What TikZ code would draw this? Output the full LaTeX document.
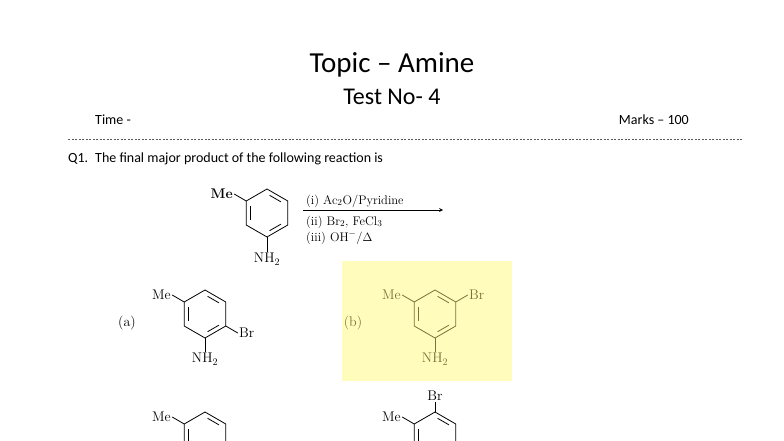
\documentclass[tikz,border=0pt]{standalone}
\usepackage{fontspec}
\newfontfamily\hdfont{Carlito}
\usetikzlibrary{calc}
\definecolor{hilite}{RGB}{255,252,188}
\definecolor{hiltext}{RGB}{120,115,60}
\tikzset{
  bond/.style={line width=0.8pt},
  hd/.style={font=\hdfont\fontsize{14}{16}\selectfont, inner sep=0pt},
  chem/.style={font=\fontsize{14}{16}\selectfont, inner sep=1pt},
  cond/.style={font=\fontsize{12.5}{14}\selectfont, inner sep=0pt, anchor=west}
}
% ring with named corners t, ur, lr, b, ll, ul
\newcommand\benzene[2]{%
  \coordinate (#1) at (#2);
  \foreach \a/\n in {-90/t,-30/ur,30/lr,90/b,150/ll,210/ul}
    \coordinate (#1-\n) at ($(#1)+(\a:24)$);
  \draw[bond] (#1-t) -- (#1-ur) -- (#1-lr) -- (#1-b) -- (#1-ll) -- (#1-ul) -- cycle;
  \foreach \p/\q in {t/ur,lr/b,ll/ul}
    \draw[bond, shorten <=3pt, shorten >=3pt] ($(#1)!0.8!(#1-\p)$) -- ($(#1)!0.8!(#1-\q)$);
}
\begin{document}
\begin{tikzpicture}[x=1pt, y=-1pt]
  \useasboundingbox (0,0) rectangle (784,441);
  % header
  \node[hd, font=\hdfont\fontsize{29}{32}\selectfont] (topic) at (392,65) {Topic \textendash\ Amine};
  \node[hd, font=\hdfont\fontsize{24}{26}\selectfont] (test) at (392,97) {Test No- 4};
  \node[hd, anchor=west] (time) at (95,120) {Time -};
  \node[hd, anchor=east] (marks) at (689,120) {Marks \textendash\ 100};
  \draw[gray!70!black, dash pattern=on 2pt off 1.5pt, line width=0.6pt] (68,139) -- (742,139);
  \node[hd, anchor=west] (q1) at (68,159) {Q1.};
  \node[hd, anchor=west] (stmt) at (95,159) {The final major product of the following reaction is};

  % starting material
  \benzene{s}{267,213}
  \draw[bond] (s-ul) -- ++(-12,-7) node[chem, anchor=east] (sme) {\textbf{Me}};
  \draw[bond] (s-b) -- ++(0,15) node[chem, anchor=north] (snh) {NH$_2$};
  \draw[-stealth, line width=0.7pt] (303,210) -- (443,210);
  \node[cond] (c1) at (306,201) {(i) Ac$_2$O/Pyridine};
  \node[cond] (c2) at (306,222) {(ii) Br$_2$, FeCl$_3$};
  \node[cond] (c3) at (306,238) {(iii) OH$^-$/$\Delta$};

  % option a
  \node[chem] (la) at (127,323) {(a)};
  \benzene{a}{205,314}
  \draw[bond] (a-ul) -- ++(-12,-7) node[chem, anchor=east] (ame) {Me};
  \draw[bond] (a-lr) -- ++(12,7) node[chem, anchor=west] (abr) {Br};
  \draw[bond] (a-b) -- ++(0,14) node[chem, anchor=north] (anh) {NH$_2$};

  % option b, highlighted
  \fill[hilite] (342,261) rectangle (512,381);
  \begin{scope}[color=hiltext]
    \node[chem, text=hiltext] (lb) at (353,323) {(b)};
    \benzene{bb}{435,314}
    \draw[bond] (bb-ul) -- ++(-12,-7) node[chem, anchor=east, text=hiltext] (bme) {Me};
    \draw[bond] (bb-ur) -- ++(12,-7) node[chem, anchor=west, text=hiltext] (bbr) {Br};
    \draw[bond] (bb-b) -- ++(0,14) node[chem, anchor=north, text=hiltext] (bnh) {NH$_2$};
  \end{scope}

  % options c and d (cut at the page edge)
  \begin{scope}
    \clip (0,0) rectangle (784,441);
    \benzene{c}{205,436}
    \draw[bond] (c-ul) -- ++(-12,-7) node[chem, anchor=east] (cme) {Me};
    \benzene{d}{435,436}
    \draw[bond] (d-ul) -- ++(-12,-7) node[chem, anchor=east] (dme) {Me};
    \draw[bond] (d-t) -- ++(0,-10) node[chem, anchor=south] (dbr) {Br};
  \end{scope}
\end{tikzpicture}
\end{document}
